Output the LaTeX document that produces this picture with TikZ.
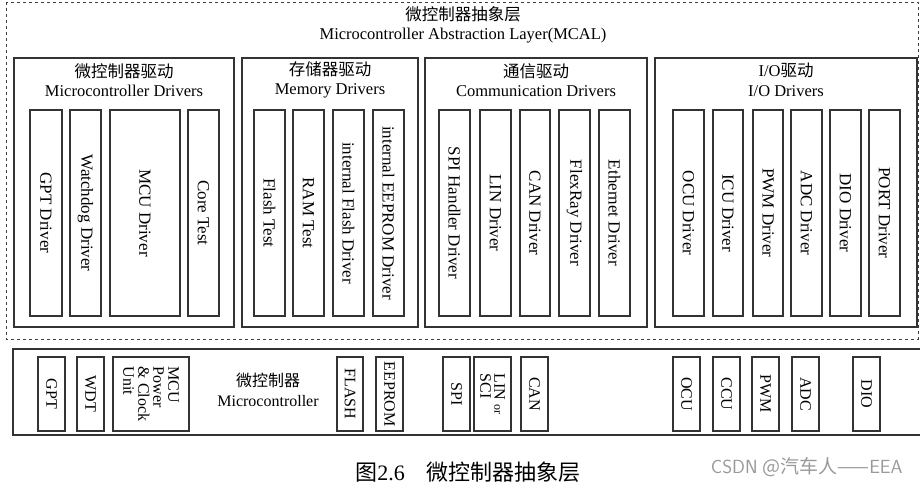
\documentclass[tikz,border=0pt]{standalone}
\usepackage{fontspec}
\setmainfont{Liberation Serif}
\newfontfamily\cjk{Noto Sans CJK SC}
\begin{document}
\begin{tikzpicture}[x=1pt,y=-1pt,
  frame/.style={draw=black!80,line width=1.1pt},
  hdr/.style={font=\fontsize{16.5}{19.5}\selectfont,align=center},
  vtext/.style={frame,rotate=-90,inner sep=0pt,font=\fontsize{17}{18}\selectfont},
  btext/.style={frame,rotate=-90,inner sep=0pt,font=\fontsize{16}{14}\selectfont,align=left}]
\newcommand\vbx[7]{\node[#7,minimum width={#5pt-#4pt},minimum height={#3pt-#2pt}] (#1) at ({(#2+#3)/2},{(#4+#5)/2}) {#6};}
\useasboundingbox[fill=white] (0,0) rectangle (920,487);
% MCAL dashed frame
\draw[dashed,line width=0.8pt,black!75] (6,2) rectangle (918,339);
\node[hdr] (mcal) at (463,25) {{\cjk 微控制器抽象层}\\Microcontroller Abstraction Layer(MCAL)};
% groups
\draw[frame] (14,58) rectangle (234,327);
\draw[frame] (242,58) rectangle (418,327);
\draw[frame] (425,58) rectangle (647,327);
\draw[frame] (655,58) rectangle (917,327);
\node[hdr] (g1) at (124,80) {{\cjk 微控制器驱动}\\Microcontroller Drivers};
\node[hdr] (g2) at (330,80) {{\cjk 存储器驱动}\\Memory Drivers};
\node[hdr] (g3) at (536,80) {{\cjk 通信驱动}\\Communication Drivers};
\node[hdr] (g4) at (786,80) {I/O{\cjk 驱动}\\I/O Drivers};
% driver boxes
\vbx{a1}{30}{62}{110}{316}{GPT Driver}{vtext}
\vbx{a2}{70}{101}{110}{316}{Watchdog Driver}{vtext}
\vbx{a3}{110}{180}{110}{316}{MCU Driver}{vtext}
\vbx{a4}{188}{219}{110}{316}{Core Test}{vtext}
\vbx{b1}{254}{285}{110}{316}{Flash Test}{vtext}
\vbx{b2}{293}{324}{110}{316}{RAM Test}{vtext}
\vbx{b3}{333}{364}{110}{316}{internal Flash Driver}{vtext}
\vbx{b4}{373}{404}{110}{316}{internal EEPROM Driver}{vtext}
\vbx{c1}{439}{470}{110}{316}{SPI Handler Driver}{vtext}
\vbx{c2}{480}{511}{110}{316}{LIN Driver}{vtext}
\vbx{c3}{520}{550}{110}{316}{CAN Driver}{vtext}
\vbx{c4}{559}{590}{110}{316}{FlexRay Driver}{vtext}
\vbx{c5}{599}{630}{110}{316}{Ethernet Driver}{vtext}
\vbx{d1}{673}{704}{110}{316}{OCU Driver}{vtext}
\vbx{d2}{713}{743}{110}{316}{ICU Driver}{vtext}
\vbx{d3}{753}{783}{110}{316}{PWM Driver}{vtext}
\vbx{d4}{791}{822}{110}{316}{ADC Driver}{vtext}
\vbx{d5}{830}{861}{110}{316}{DIO Driver}{vtext}
\vbx{d6}{869}{900}{110}{316}{PORT Driver}{vtext}
% microcontroller
\draw[frame] (920,349) -- (13,349) -- (13,435) -- (920,435);
\node[hdr,font=\fontsize{16}{20}\selectfont] (mc) at (268,390) {{\cjk 微控制器}\\Microcontroller};
\vbx{e1}{38}{65}{357}{431}{GPT}{btext}
\vbx{e2}{77}{104}{357}{431}{WDT}{btext}
\vbx{e3}{113}{189}{357}{431}{MCU\\Power\\\& Clock\\Unit}{btext,font=\fontsize{16}{15}\selectfont}
\vbx{e4}{337}{363}{357}{431}{FLASH}{btext}
\vbx{e5}{376}{403}{357}{431}{EEPROM}{btext}
\vbx{e6}{443}{470}{357}{431}{SPI}{btext}
\vbx{e7}{474}{511}{357}{431}{LIN {\fontsize{12}{12}\selectfont or}\\SCI}{btext,font=\fontsize{16}{14}\selectfont}
\vbx{e8}{521}{548}{357}{431}{CAN}{btext}
\vbx{e9}{673}{700}{357}{431}{OCU}{btext}
\vbx{e10}{713}{740}{357}{431}{CCU}{btext}
\vbx{e11}{752}{779}{357}{431}{PWM}{btext}
\vbx{e12}{792}{819}{357}{431}{ADC}{btext}
\vbx{e13}{853}{880}{357}{431}{DIO}{btext}
% caption
\node[font=\fontsize{22}{24}\selectfont] (cap) at (468,472) {{\cjk 图}2.6\quad{\cjk 微控制器抽象层}};
\node[font=\fontsize{19}{20}\selectfont,text=black!40,anchor=east] (wm) at (906,467) {{\sffamily CSDN} {\cjk @汽车人——}{\sffamily EEA}};
\end{tikzpicture}
\end{document}
